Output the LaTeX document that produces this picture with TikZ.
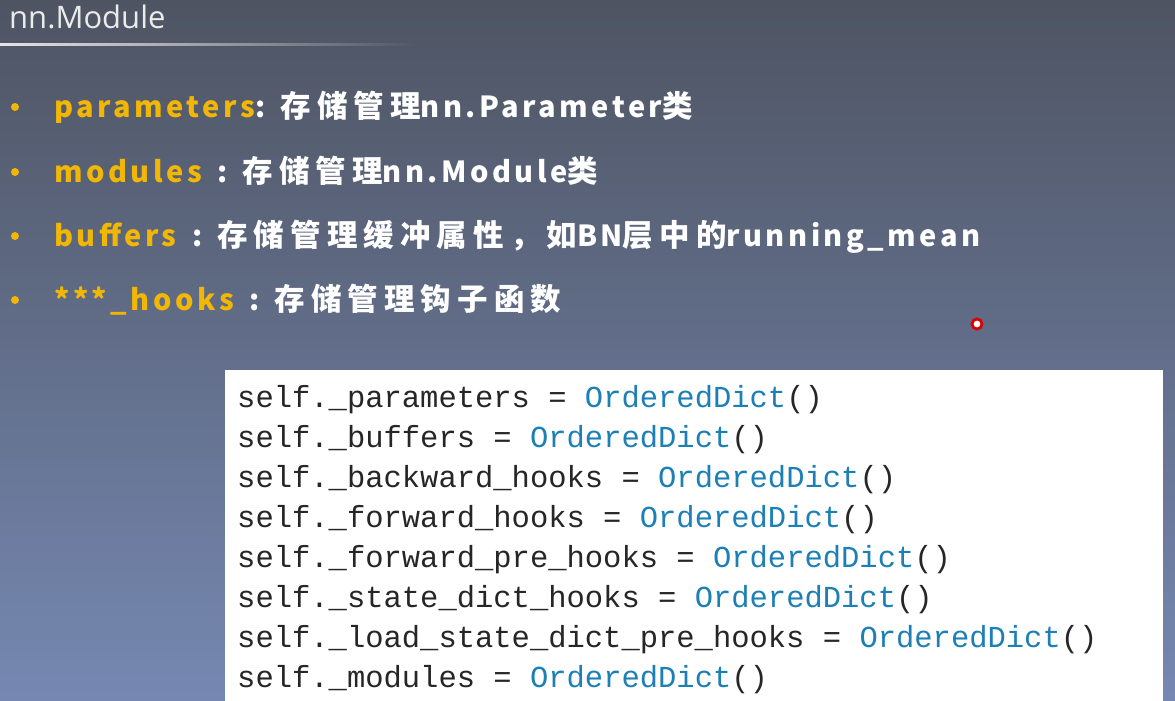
\documentclass[tikz,border=0pt]{standalone}
\usepackage{fontspec}
\newfontfamily\cjk[LetterSpace=12]{Noto Sans CJK SC}
\newfontfamily\cjw[LetterSpace=20]{Noto Sans CJK SC}
\newfontfamily\code{Liberation Mono}
\newfontfamily\ttl{Open Sans}
\newcommand{\zh}[1]{{\cjw\fontsize{30.5}{30}\selectfont #1}}
\newcommand{\gp}{\rule{15pt}{0pt}}
\definecolor{kw}{HTML}{F2B705}
\definecolor{od}{HTML}{1C7FB5}
\begin{document}
\begin{tikzpicture}[x=1pt,y=-1pt,
  bl/.style={anchor=base west,inner sep=0pt,text=white,font=\cjk\fontsize{29}{29}\selectfont\bfseries},
  cl/.style={anchor=base west,inner sep=0pt,font=\code\fontsize{30.5}{31}\selectfont,text=black!85}]
\useasboundingbox (0,0) rectangle (1175,701);
\shade[top color={rgb,255:red,78;green,84;blue,98}, bottom color={rgb,255:red,118;green,136;blue,178}] (0,0) rectangle (1175,701);
\node[anchor=base west,inner sep=0pt,text=white!92!black,font=\ttl\fontsize{31}{31}\selectfont] (t) at (9,29) {nn.Module};
\shade[left color=white!80!gray, right color={rgb,255:red,80;green,86;blue,100}] (0,44) rectangle (420,46);
\foreach \y/\k/\r [count=\i] in {117/parameters/{:\gp\zh{存储管理}nn.Parameter\zh{类}},182/modules/{\gp:\gp\zh{存储管理}nn.Module\zh{类}},246/buffers/{\gp:\gp\zh{存储管理缓冲属性，如}BN\zh{层中的}running\_mean},310/***\_hooks/{\gp:\gp\zh{存储管理钩子函数}}}{
  \fill[kw] (15,\y-10) circle (4);
  \node[bl,text=kw] (k\i) at (54,\y) {\k};
  \node[bl] (r\i) at (k\i.base east) {\r};
}
\draw[red!85!black,fill=white,line width=2.8pt] (977,324) circle (5);
\node[fill=white,draw=none,minimum width=938pt,minimum height=331pt,anchor=north west,inner sep=0pt] (box) at (225,370) {};
\foreach \a [count=\i] in {parameters,buffers,backward\_hooks,forward\_hooks,forward\_pre\_hooks,state\_dict\_hooks,load\_state\_dict\_pre\_hooks,modules}{
  \node[cl] (c\i) at (237,407+40*\i-40) {self.\_\a{} = \textcolor{od}{OrderedDict}()};
}
\end{tikzpicture}
\end{document}
